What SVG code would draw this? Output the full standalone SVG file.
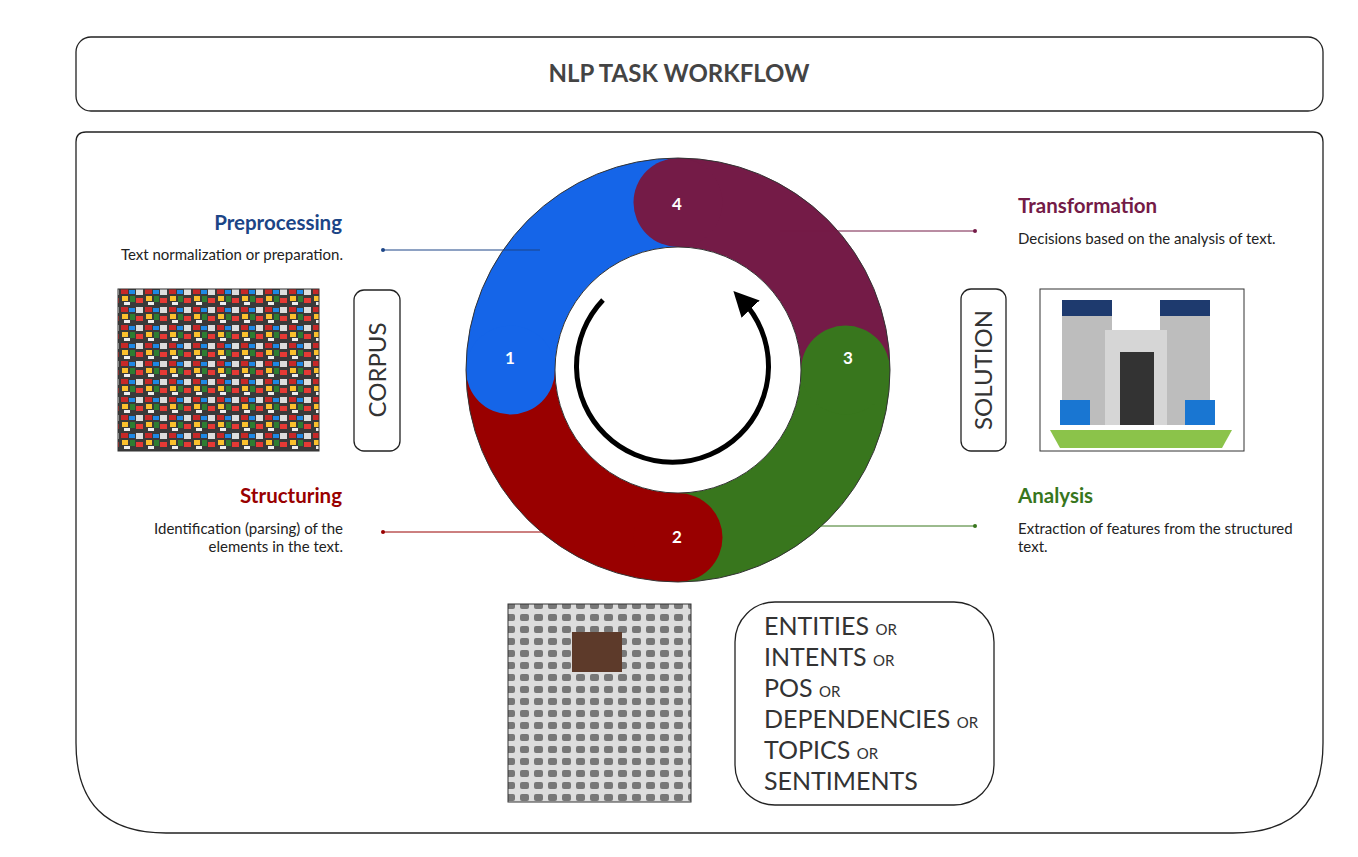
<svg xmlns="http://www.w3.org/2000/svg" width="1358" height="857" viewBox="0 0 1358 857">
<defs>
<style>
.f{font-family:Lato,"Open Sans",sans-serif}
.h{font-size:20.5px;font-weight:bold}
.d{font-size:15px;fill:#222}
.big{font-size:25px;fill:#333}
.sm{font-size:15px;fill:#333}
.seg{fill:none;stroke-width:89}
.num{font-size:17px;font-weight:bold;fill:#fff;text-anchor:middle}
.frame{fill:#fff;stroke:#222;stroke-width:1.3}
</style>
<pattern id="pile" width="24" height="18" patternUnits="userSpaceOnUse">
<rect width="24" height="18" fill="#3a3a3a"/>
<rect x="1" y="1" width="7" height="5" fill="#c62828"/><rect x="9" y="2" width="6" height="4" fill="#1e88e5"/>
<rect x="16" y="1" width="7" height="6" fill="#ddd"/><rect x="2" y="8" width="6" height="5" fill="#fbc02d"/>
<rect x="10" y="8" width="5" height="6" fill="#2e7d32"/><rect x="16" y="10" width="7" height="5" fill="#e53935"/>
<rect x="4" y="14" width="6" height="3" fill="#eee"/>
</pattern>
<pattern id="parts" width="14" height="12" patternUnits="userSpaceOnUse">
<rect width="14" height="12" fill="#ddd"/><rect x="2" y="2" width="9" height="7" rx="2" fill="#777"/>
</pattern>
<marker id="ah" viewBox="0 0 10 10" refX="5" refY="5" markerWidth="5" markerHeight="5" orient="auto"><path d="M0,0 L10,5 L0,10 Z" fill="#000"/></marker>
</defs>
<rect width="1358" height="857" fill="#fff"/>
<g id="title"><rect class="frame" x="76" y="37" width="1247" height="74" rx="15"/>
<text class="f" x="679" y="82" text-anchor="middle" font-size="24" font-weight="bold" fill="#444">NLP TASK WORKFLOW</text></g>
<g id="main"><path class="frame" d="M86,132 H1313 Q1323,132 1323,142 V743 Q1323,833 1233,833 H166 Q76,833 76,743 V142 Q76,132 86,132 Z"/></g>
<g id="cycle">
<path class="seg" stroke="#1565e8" d="M 678,202.5 A 167.5 167.5 0 0 0 510.5,370"/>
<path class="seg" stroke="#990000" d="M 510.5,370 A 167.5 167.5 0 0 0 678,537.5"/>
<path class="seg" stroke="#38761d" d="M 678,537.5 A 167.5 167.5 0 0 0 845.5,370"/>
<path class="seg" stroke="#741b47" d="M 845.5,370 A 167.5 167.5 0 0 0 678,202.5"/>
<circle cx="510.5" cy="370" r="44.5" fill="#1565e8"/>
<circle cx="678" cy="537.5" r="44.5" fill="#990000"/>
<circle cx="845.5" cy="370" r="44.5" fill="#38761d"/>
<circle cx="678" cy="202.5" r="44.5" fill="#741b47"/>
<circle cx="678" cy="370" r="212" fill="none" stroke="#333" stroke-width="1"/>
<circle cx="678" cy="370" r="123" fill="#fff" stroke="#333" stroke-width="1"/>
<text class="f num" x="510" y="364">1</text><text class="f num" x="677" y="543">2</text>
<text class="f num" x="848" y="364">3</text><text class="f num" x="677" y="210">4</text>
<path d="M 603,300 A 96 96 0 1 0 742,300" fill="none" stroke="#000" stroke-width="5" marker-end="url(#ah)"/>
</g>
<g id="connectors" stroke-width="1">
<line x1="383" y1="250" x2="540" y2="250" stroke="#1c4587"/><circle cx="383" cy="250" r="2" fill="#1c4587"/>
<line x1="383" y1="532" x2="560" y2="532" stroke="#990000"/><circle cx="383" cy="532" r="2" fill="#990000"/>
<line x1="780" y1="231" x2="975" y2="231" stroke="#741b47"/><circle cx="975" cy="231" r="2" fill="#741b47"/>
<line x1="790" y1="526" x2="975" y2="526" stroke="#38761d"/><circle cx="975" cy="526" r="2" fill="#38761d"/>
</g>
<g id="preprocessing" class="f"><text class="h" x="342" y="230" text-anchor="end" fill="#1c4587">Preprocessing</text>
<text class="d" x="343" y="260" text-anchor="end">Text normalization or preparation.</text></g>
<g id="structuring" class="f"><text class="h" x="342" y="503" text-anchor="end" fill="#990000">Structuring</text>
<text class="d" x="343" y="534" text-anchor="end">Identification (parsing) of the</text>
<text class="d" x="343" y="552" text-anchor="end">elements in the text.</text></g>
<g id="transformation" class="f"><text class="h" x="1018" y="213" fill="#741b47">Transformation</text>
<text class="d" x="1018" y="244">Decisions based on the analysis of text.</text></g>
<g id="analysis" class="f"><text class="h" x="1018" y="503" fill="#38761d">Analysis</text>
<text class="d" x="1018" y="534">Extraction of features from the structured</text>
<text class="d" x="1018" y="552">text.</text></g>
<g id="corpus"><rect class="frame" x="354" y="290" width="46" height="161" rx="10"/>
<text class="f" transform="translate(386,370) rotate(-90)" text-anchor="middle" font-size="24" fill="#333">CORPUS</text></g>
<g id="solution"><rect class="frame" x="961" y="289" width="45" height="162" rx="10"/>
<text class="f" transform="translate(992,370) rotate(-90)" text-anchor="middle" font-size="24" fill="#333">SOLUTION</text></g>
<g id="img-pile"><rect x="118" y="289" width="201" height="162" fill="url(#pile)" stroke="#333"/></g>
<g id="img-castle"><rect x="1040" y="289" width="204" height="162" fill="#fff" stroke="#333"/>
<polygon points="1050,430 1232,430 1222,448 1060,448" fill="#8bc34a"/>
<rect x="1062" y="310" width="50" height="115" fill="#bdbdbd"/><rect x="1160" y="310" width="50" height="115" fill="#bdbdbd"/>
<rect x="1105" y="330" width="62" height="95" fill="#d6d6d6"/>
<rect x="1062" y="300" width="50" height="16" fill="#1e3a6e"/><rect x="1160" y="300" width="50" height="16" fill="#1e3a6e"/>
<rect x="1120" y="352" width="34" height="73" fill="#333"/><rect x="1060" y="400" width="30" height="25" fill="#1976d2"/><rect x="1185" y="400" width="30" height="25" fill="#1976d2"/></g>
<g id="img-parts"><rect x="508" y="604" width="183" height="198" fill="url(#parts)" stroke="#333"/>
<rect x="572" y="632" width="50" height="40" fill="#5d3a2a"/></g>
<g id="outputs" class="f"><rect class="frame" x="735" y="602" width="259" height="203" rx="40"/>
<text x="764" y="635"><tspan class="big">ENTITIES </tspan><tspan class="sm">OR</tspan></text>
<text x="764" y="666"><tspan class="big">INTENTS </tspan><tspan class="sm">OR</tspan></text>
<text x="764" y="697"><tspan class="big">POS </tspan><tspan class="sm">OR</tspan></text>
<text x="764" y="728"><tspan class="big">DEPENDENCIES </tspan><tspan class="sm">OR</tspan></text>
<text x="764" y="759"><tspan class="big">TOPICS </tspan><tspan class="sm">OR</tspan></text>
<text x="764" y="790"><tspan class="big">SENTIMENTS</tspan></text></g>
</svg>
